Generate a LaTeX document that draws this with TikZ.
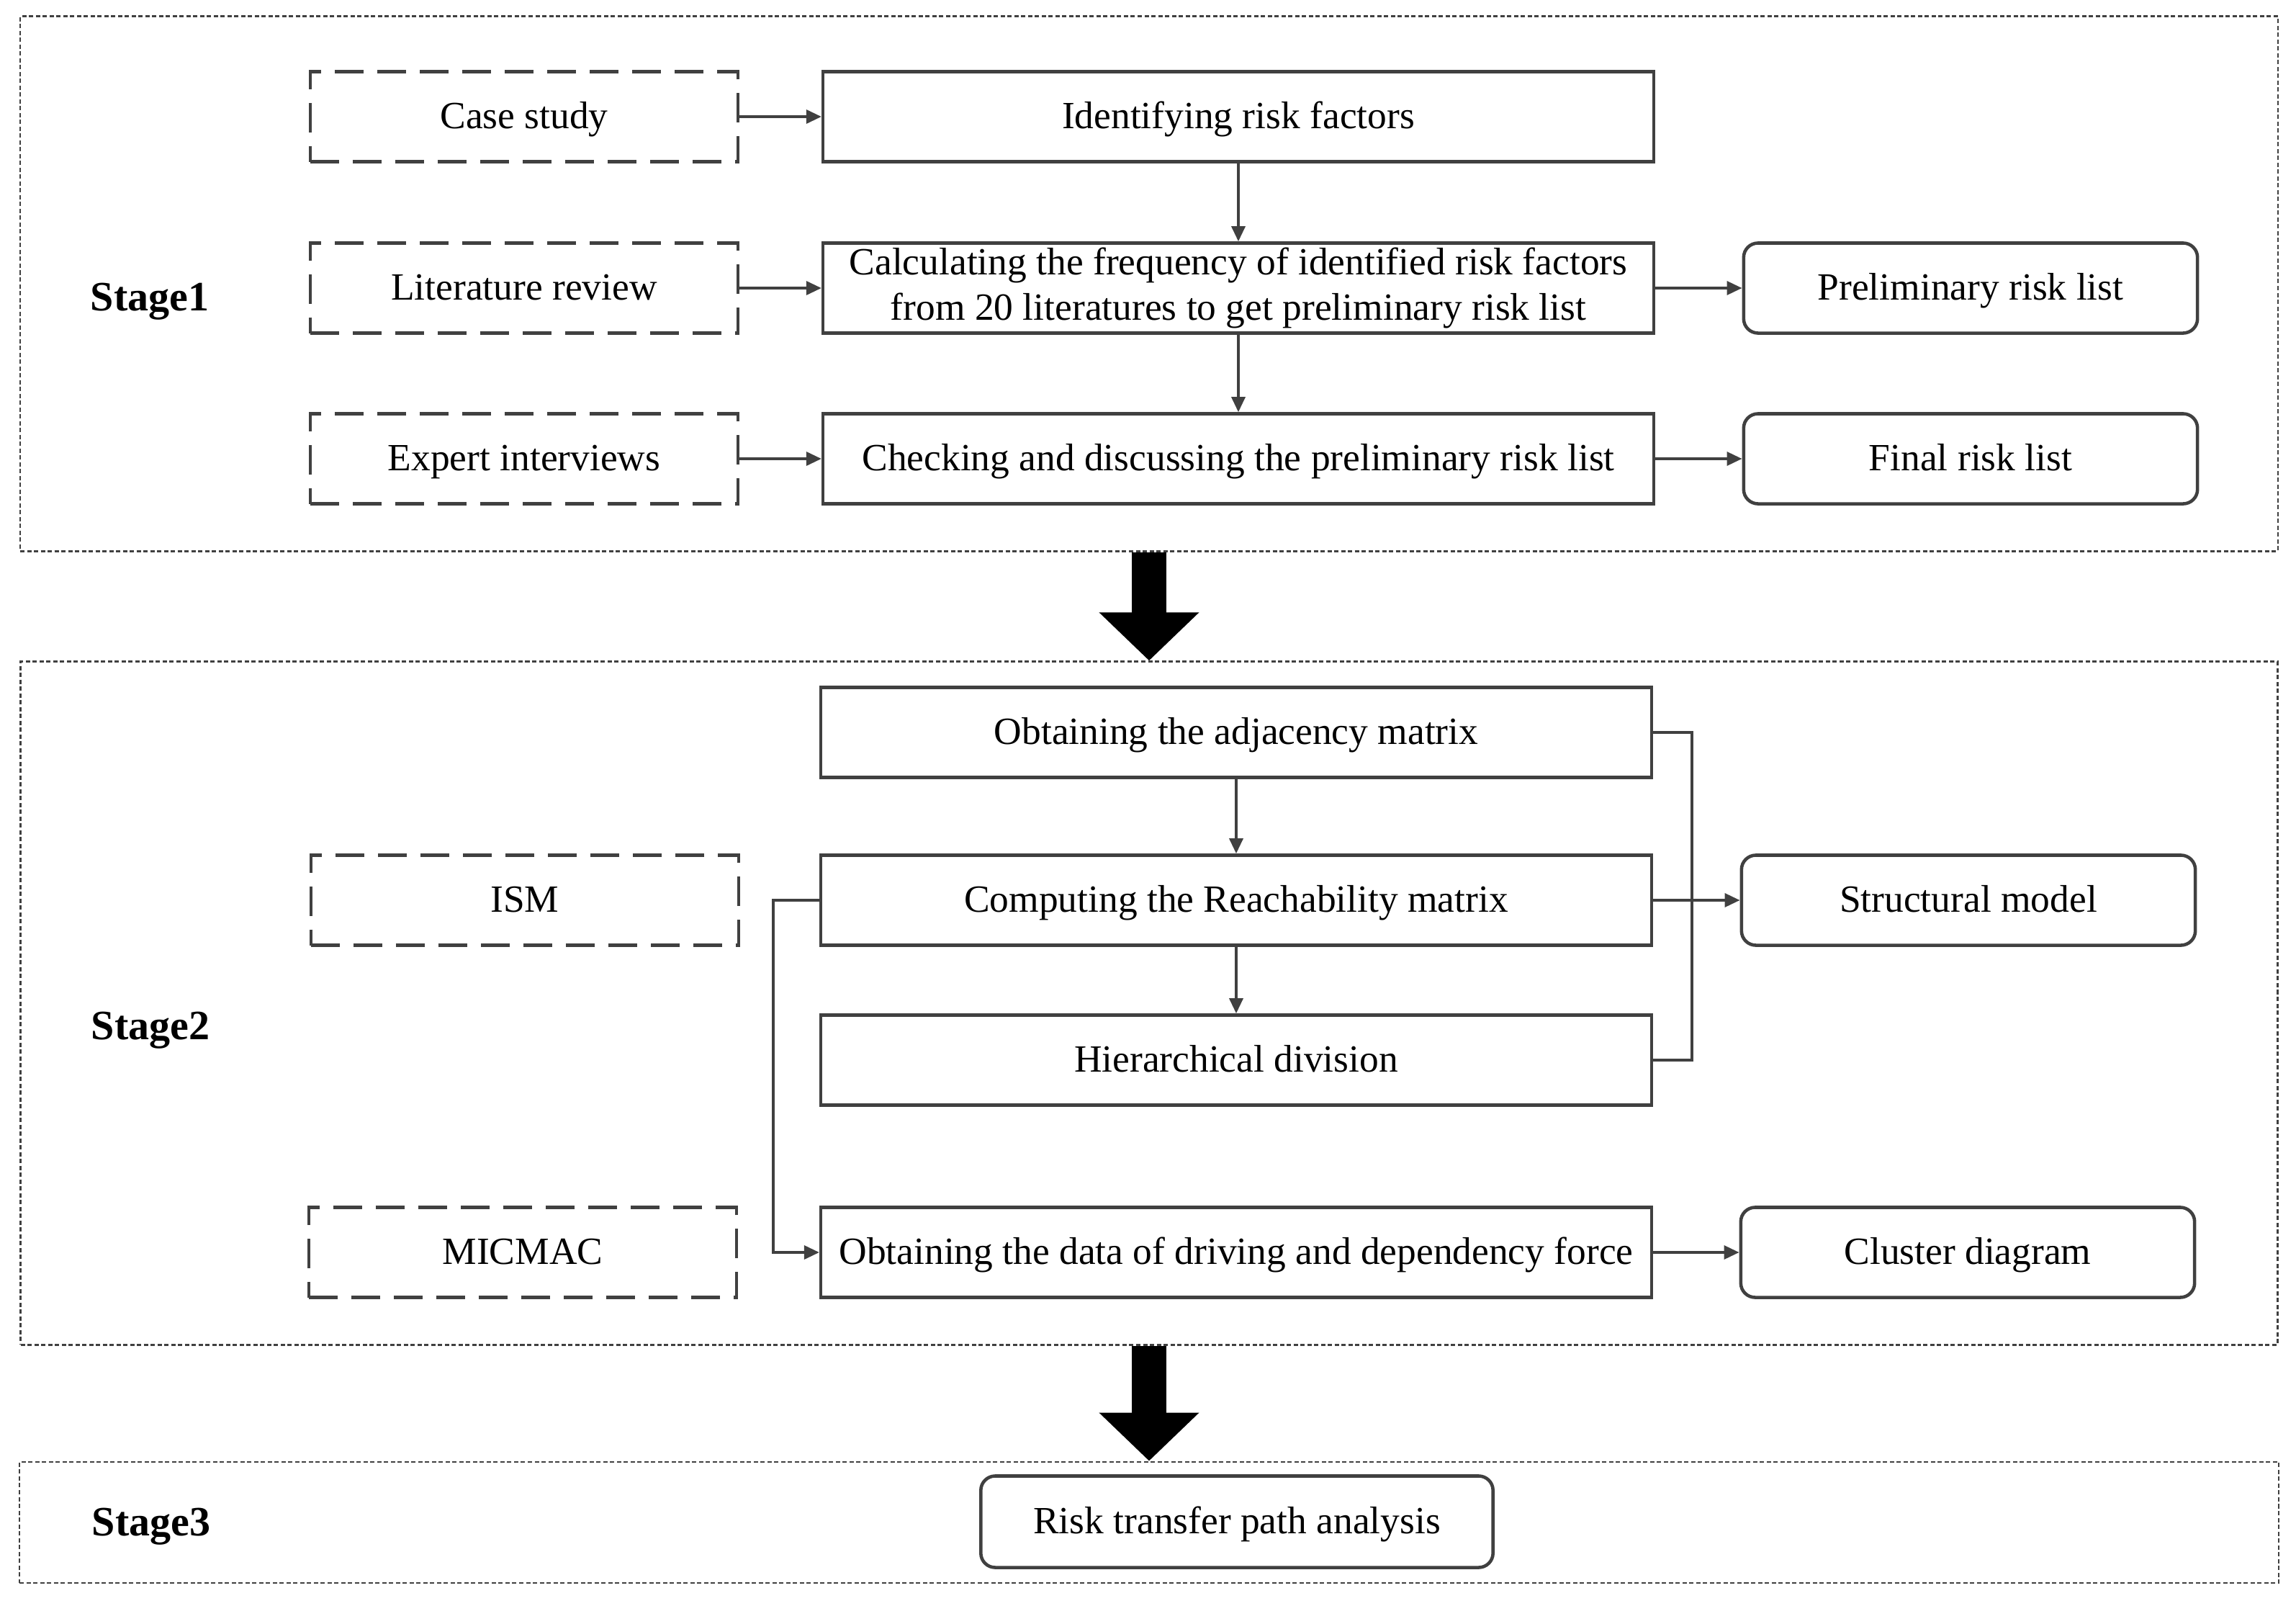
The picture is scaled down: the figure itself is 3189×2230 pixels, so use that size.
\documentclass[tikz,border=0pt]{standalone}
\usepackage{fontspec}
\setmainfont{Liberation Serif}
\usetikzlibrary{arrows.meta}
\definecolor{lc}{HTML}{404040}
\begin{document}
\begin{tikzpicture}[x=0.01cm,y=-0.01cm,
  base/.style={font=\fontsize{15.2pt}{18pt}\selectfont, align=center, inner sep=0pt, minimum height=1.25cm, text=black},
  oneline/.style={text height=0.42cm, text depth=0.09cm},
  procbase/.style={base, draw=lc, line width=1.3pt, minimum width=11.53cm},
  proc/.style={procbase, oneline},
  res/.style={base, oneline, draw=lc, line width=1.3pt, rounded corners=0.2cm, minimum width=6.3cm},
  src/.style={base, oneline, draw=lc, line width=1.3pt, dash pattern=on 0.4cm off 0.19cm, minimum width=5.94cm},
  stagebox/.style={draw=lc, line width=0.8pt, dash pattern=on 0.06cm off 0.035cm, inner sep=0pt},
  stagelabel/.style={font=\fontsize{16.5pt}{19pt}\selectfont\bfseries},
  conn/.style={draw=lc, line width=1pt, -{Triangle[length=0.21cm,width=0.19cm]}},
  plain/.style={draw=lc, line width=1pt},
  bigarrow/.style={draw=black, line width=0.48cm, -{Triangle[length=0.67cm,width=1.35cm]}}
]
\useasboundingbox (0,0) rectangle (3189,2230);

% stage frames
\node[stagebox, minimum width=31.34cm, minimum height=7.42cm] (s1) at (1596,394) {};
\node[stagebox, minimum width=31.33cm, minimum height=9.48cm] (s2) at (1596,1393) {};
\node[stagebox, minimum width=31.36cm, minimum height=1.68cm] (s3) at (1596,2114) {};

\node[stagelabel] (l1) at (208,419) {Stage1};
\node[stagelabel] (l2) at (209,1431) {Stage2};
\node[stagelabel] (l3) at (210,2120) {Stage3};

% stage 1
\node[src] (case) at (728,162) {Case study};
\node[src] (lit) at (728,400) {Literature review};
\node[src] (exp) at (728,637) {Expert interviews};
\node[proc] (ident) at (1720,162) {Identifying risk factors};
\node[procbase] (calc) at (1720,400) {Calculating the frequency of identified risk factors\\from 20 literatures to get preliminary risk list};
\node[proc] (check) at (1720,637) {Checking and discussing the preliminary risk list};
\node[res] (prelim) at (2737,400) {Preliminary risk list};
\node[res] (final) at (2737,637) {Final risk list};

\draw[conn] (case) -- (ident);
\draw[conn] (lit) -- (calc);
\draw[conn] (exp) -- (check);
\draw[conn] (ident) -- (calc);
\draw[conn] (calc) -- (check);
\draw[conn] (calc) -- (prelim);
\draw[conn] (check) -- (final);

% stage 2
\node[src] (ism) at (729,1250) {ISM};
\node[src] (micmac) at (726,1739) {MICMAC};
\node[proc] (adj) at (1717,1017) {Obtaining the adjacency matrix};
\node[proc] (comp) at (1717,1250) {Computing the Reachability matrix};
\node[proc] (hier) at (1717,1472) {Hierarchical division};
\node[proc] (data) at (1717,1739) {Obtaining the data of driving and dependency force};
\node[res] (struct) at (2734,1250) {Structural model};
\node[res] (cluster) at (2733,1739) {Cluster diagram};

\coordinate (br) at (2350,1250);
\coordinate (lb) at (1074,1250);

\draw[conn] (adj) -- (comp);
\draw[conn] (comp) -- (hier);
\draw[plain] (adj.east) -| (br) |- (hier.east);
\draw[conn] (comp) -- (struct);
\draw[conn] (comp.west) -- (lb) |- (data.west);
\draw[conn] (data) -- (cluster);

% stage 3
\node[res, minimum width=7.11cm, minimum height=1.27cm] (risk) at (1718,2113) {Risk transfer path analysis};

% big arrows
\draw[bigarrow] (s1.south) -- (s2.north);
\draw[bigarrow] (s2.south) -- (s3.north);
\end{tikzpicture}
\end{document}
